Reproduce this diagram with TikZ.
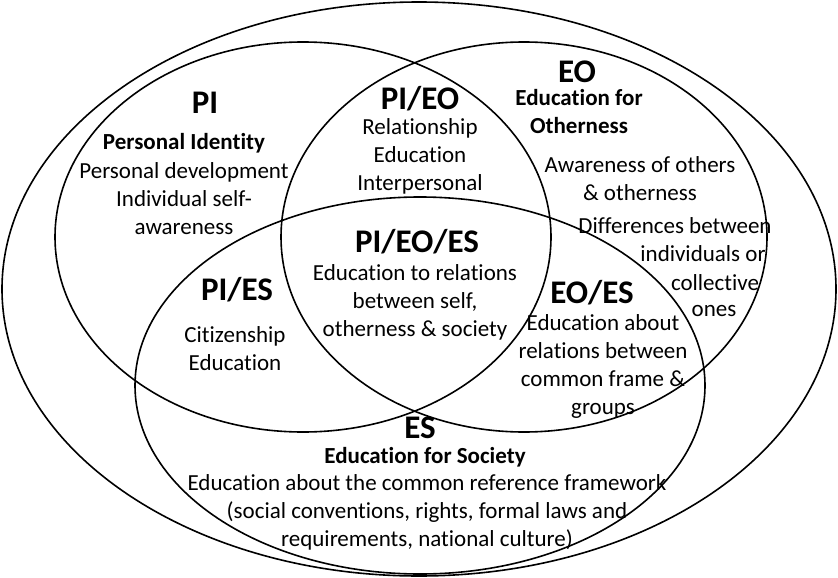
\documentclass[tikz,border=0pt]{standalone}
\usepackage{fontspec}
\setmainfont{Carlito}[Ligatures=NoCommon]

\begin{document}
\begin{tikzpicture}[
    x=1pt, y=-1pt,
    line width=1.6pt,
    every node/.style={inner sep=0pt},
    tag/.style={font=\fontsize{33}{36}\selectfont\bfseries},
    head/.style={font=\fontsize{23}{28}\selectfont\bfseries, align=center},
    body/.style={font=\fontsize{23}{28}\selectfont, align=center},
]
\useasboundingbox (0,0) rectangle (838,578);

% Ellipses
\draw (419,289) ellipse [x radius=417, y radius=287];
\draw (303,237) ellipse [x radius=248, y radius=195];
\draw (524,237) ellipse [x radius=243, y radius=195];
\draw (420,385.5) ellipse [x radius=285, y radius=188.5];

% Personal Identity
\node[tag] (pi) at (205,103) {PI};
\node[head] (pihead) at (184,143) {Personal Identity};
\node[body] (pitext) at (184,199) {Personal development\\Individual self-\\awareness};

% Education for Otherness
\node[tag] (eo) at (577,72) {EO};
\node[head] (eohead) at (579,112) {Education for\\Otherness};
\node[body] (eoaware) at (640,179) {Awareness of others\\\& otherness};
\node[body] (eodiff) at (675,226) {Differences between};
\node[body] (eoindiv) at (703,254) {individuals or};
\node[body] (eocoll) at (715,283) {collective};
\node[body] (eoones) at (714,311) {ones};

% PI/EO
\node[tag] (pieo) at (420,99) {PI/EO};
\node[body] (pieotext) at (420,156) {Relationship\\Education\\Interpersonal};

% PI/EO/ES
\node[tag] (pieoes) at (417,242) {PI/EO/ES};
\node[body] (pieoestext) at (415,302) {Education to relations\\between self,\\otherness \& society};

% PI/ES
\node[tag] (pies) at (237,290) {PI/ES};
\node[body] (piestext) at (235,349) {Citizenship\\Education};

% EO/ES
\node[tag] (eoes) at (592,293) {EO/ES};
\node[body] (eoestext) at (603,366) {Education about\\relations between\\common frame \&\\groups};

% Education for Society
\node[tag] (es) at (420,428) {ES};
\node[head] (eshead) at (425,457) {Education for Society};
\node[body] (estext) at (427,512) {Education about the common reference framework\\(social conventions, rights, formal laws and\\requirements, national culture)};

\end{tikzpicture}
\end{document}
